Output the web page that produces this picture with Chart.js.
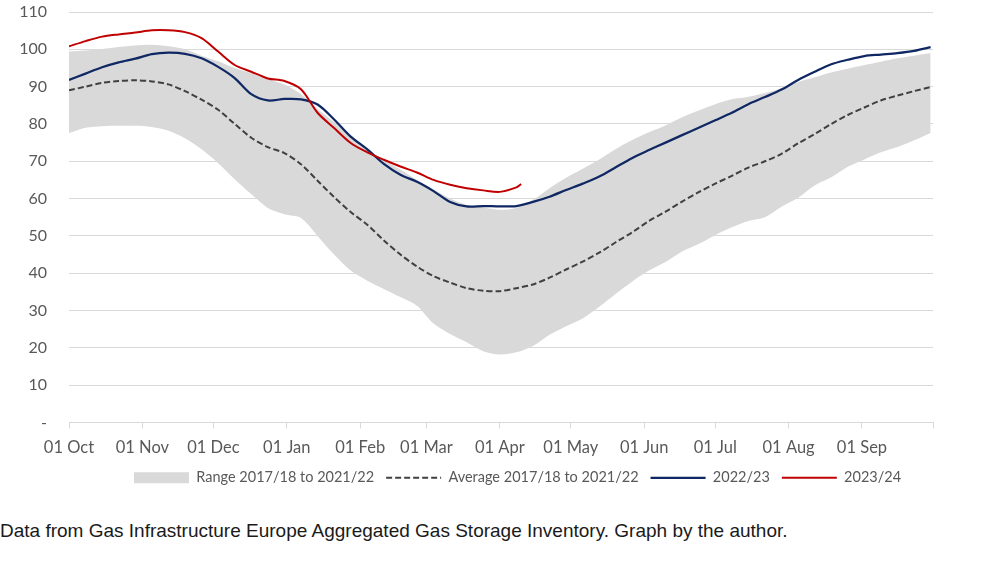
<!DOCTYPE html>
<html>
<head>
<meta charset="utf-8">
<script src="https://cdn.jsdelivr.net/npm/chart.js@4.4.1/dist/chart.umd.min.js"></script>
<style>
  body { margin: 0; background: #fff; width: 1007px; height: 563px; overflow: hidden; }
  #wrap { position: absolute; left: 0; top: 0; width: 1007px; height: 495px; }
  #note { position: absolute; left: 0; top: 520px; font-family: "Liberation Sans", Arial, sans-serif; font-size: 19px; color: #1a1a1a; white-space: nowrap; }
</style>
</head>
<body>
<div id="wrap"><canvas id="chart"></canvas></div>
<div id="note">Data from Gas Infrastructure Europe Aggregated Gas Storage Inventory. Graph by the author.</div>
<script>
// days since 01 Oct, one point per week
const days = [0, 7, 14, 21, 28, 35, 42, 49, 56, 63, 70, 77, 84, 91, 98, 105, 112, 119, 126, 133,
  140, 147, 154, 161, 168, 175, 182, 189, 196, 203, 210, 217, 224, 231, 238, 245, 252, 259, 266, 273,
  280, 287, 294, 301, 308, 315, 322, 329, 336, 343, 350, 357, 364];
const redDays = [0, 7, 14, 21, 28, 35, 42, 49, 56, 63, 70, 77, 84, 91, 98, 105, 112, 119, 126, 133,
  140, 147, 154, 161, 168, 175, 182, 189, 191];

const rangeLow = [77.6, 79.0, 79.4, 79.5, 79.5, 79.2, 78.2, 76.2, 73.2, 69.5, 65.2, 61.2, 57.5, 55.8, 54.8, 50.0, 45.0, 40.7, 38.0, 35.8,
  33.6, 31.3, 26.5, 23.7, 21.5, 19.1, 18.2, 18.8, 20.5, 23.5, 25.8, 27.9, 31.0, 34.5, 37.8, 40.7, 43.0, 45.8, 47.8, 50.2,
  52.3, 54.0, 55.0, 57.8, 60.2, 63.5, 65.7, 68.5, 70.5, 72.4, 73.8, 75.6, 77.6];
const rangeHigh = [99.4, 99.7, 100.1, 100.6, 101.0, 101.2, 100.8, 100.0, 98.3, 96.8, 95.0, 93.6, 92.0, 90.6, 88.0, 84.0, 80.5, 77.0, 73.5, 70.2,
  67.8, 65.0, 62.5, 60.0, 58.3, 57.6, 57.0, 57.5, 59.7, 62.8, 65.6, 68.0, 70.5, 73.3, 75.7, 77.8, 79.6, 81.8, 83.6, 85.3,
  86.6, 87.3, 88.3, 89.6, 91.2, 92.5, 93.8, 94.8, 95.8, 96.7, 97.6, 98.3, 99.0];
const average = [89.0, 90.0, 91.0, 91.5, 91.7, 91.4, 90.6, 88.8, 86.5, 83.8, 80.0, 76.3, 73.8, 72.2, 69.2, 64.8, 60.4, 56.4, 53.0, 48.8,
  45.0, 41.8, 39.2, 37.5, 36.0, 35.3, 35.2, 36.0, 37.0, 38.8, 41.0, 43.1, 45.5, 48.3, 51.0, 54.0, 56.5, 59.2, 61.7, 64.0,
  66.1, 68.3, 70.0, 72.0, 74.8, 77.3, 80.0, 82.4, 84.4, 86.3, 87.6, 88.8, 89.9];
const season2223 = [91.8, 93.5, 95.2, 96.5, 97.5, 98.7, 99.1, 98.8, 97.6, 95.3, 92.3, 88.0, 86.3, 86.7, 86.6, 85.2, 81.2, 76.6, 73.2, 69.3,
  66.4, 64.5, 62.0, 59.1, 57.9, 58.0, 57.9, 58.0, 59.1, 60.5, 62.3, 64.0, 65.9, 68.4, 70.9, 73.0, 75.0, 77.0, 79.0, 81.0,
  83.0, 85.3, 87.2, 89.2, 91.8, 94.0, 96.0, 97.2, 98.2, 98.6, 99.0, 99.6, 100.6];
const season2324 = [100.8, 102.2, 103.4, 104.0, 104.5, 105.1, 105.1, 104.6, 103.0, 99.4, 95.8, 94.0, 92.2, 91.5, 89.3, 83.0, 78.9, 74.9, 72.4, 70.4,
  68.6, 67.0, 65.0, 63.7, 62.8, 62.2, 61.8, 63.0, 63.9];

const monthDays = [0, 31, 61, 92, 123, 151, 182, 212, 243, 273, 304, 335, 365];
const monthLabels = ['01 Oct', '01 Nov', '01 Dec', '01 Jan', '01 Feb', '01 Mar', '01 Apr', '01 May', '01 Jun', '01 Jul', '01 Aug', '01 Sep', ''];

const toPoints = (xs, ys) => ys.map((y, i) => ({ x: xs[i], y: y }));

Chart.defaults.font.family = 'Lato';
Chart.defaults.color = '#595959';

// push the legend row to where it sits in the original
const legendShift = {
  id: 'legendShift',
  beforeDraw(chart) {
    chart.legend.left = 122;
  }
};

new Chart(document.getElementById('chart'), {
  type: 'line',
  data: {
    datasets: [
      {
        label: 'low',
        data: toPoints(days, rangeLow),
        borderWidth: 0,
        pointRadius: 0,
        backgroundColor: 'rgba(0,0,0,0)',
        fill: false,
        tension: 0.3,
        order: 5
      },
      {
        label: 'Range 2017/18 to 2021/22',
        data: toPoints(days, rangeHigh),
        borderWidth: 0,
        borderColor: '#d9d9d9',
        backgroundColor: '#d9d9d9',
        pointRadius: 0,
        fill: '-1',
        tension: 0.3,
        order: 4,
        legendStyle: 'rect'
      },
      {
        label: 'Average 2017/18 to 2021/22',
        data: toPoints(days, average),
        borderColor: '#404040',
        borderWidth: 2,
        borderDash: [6, 3],
        pointRadius: 0,
        fill: false,
        tension: 0.3,
        order: 3,
        legendStyle: 'line'
      },
      {
        label: '2022/23',
        data: toPoints(days, season2223),
        borderColor: '#0f2763',
        borderWidth: 2.25,
        pointRadius: 0,
        fill: false,
        tension: 0.3,
        order: 2,
        legendStyle: 'line'
      },
      {
        label: '2023/24',
        data: toPoints(redDays, season2324),
        borderColor: '#c00000',
        borderWidth: 2,
        pointRadius: 0,
        fill: false,
        tension: 0.3,
        order: 1,
        legendStyle: 'line'
      }
    ]
  },
  options: {
    responsive: true,
    maintainAspectRatio: false,
    animation: false,
    layout: { padding: { top: 0, right: 74, left: 0, bottom: 0 } },
    plugins: {
      tooltip: { enabled: false },
      legend: {
        position: 'bottom',
        align: 'start',
        labels: {
          usePointStyle: true,
          pointStyleWidth: 55,
          boxHeight: 11,
          padding: 12,
          font: { size: 14.5 },
          color: '#595959',
          generateLabels: (chart) => chart.data.datasets
            .map((ds, i) => ({
              text: ds.label,
              datasetIndex: i,
              fillStyle: ds.backgroundColor,
              strokeStyle: ds.borderColor,
              lineWidth: ds.borderWidth,
              lineDash: ds.borderDash || [],
              pointStyle: ds.legendStyle,
              fontColor: '#595959',
              hidden: false
            }))
            .filter((item) => item.datasetIndex !== 0)
        }
      }
    },
    scales: {
      x: {
        type: 'linear',
        min: 0,
        max: 365,
        afterBuildTicks: (scale) => {
          scale.ticks = monthDays.map((v) => ({ value: v }));
        },
        afterFit: (scale) => { scale.height = 36; },
        ticks: {
          autoSkip: false,
          maxRotation: 0,
          padding: 9,
          font: { size: 16.5 },
          callback: (v) => monthLabels[monthDays.indexOf(v)]
        },
        grid: { drawOnChartArea: false, tickLength: 6, color: '#d9d9d9' },
        border: { color: '#d9d9d9' }
      },
      y: {
        min: 0,
        max: 110,
        afterFit: (scale) => {
          scale.width = 69;
          scale.paddingTop = 12;
        },
        ticks: {
          stepSize: 10,
          padding: 22,
          font: { size: 16 },
          callback: (v) => (v === 0 ? '-' : v)
        },
        grid: { color: '#d9d9d9', drawTicks: false },
        border: { display: false }
      }
    }
  },
  plugins: [legendShift]
});
</script>
</body>
</html>
